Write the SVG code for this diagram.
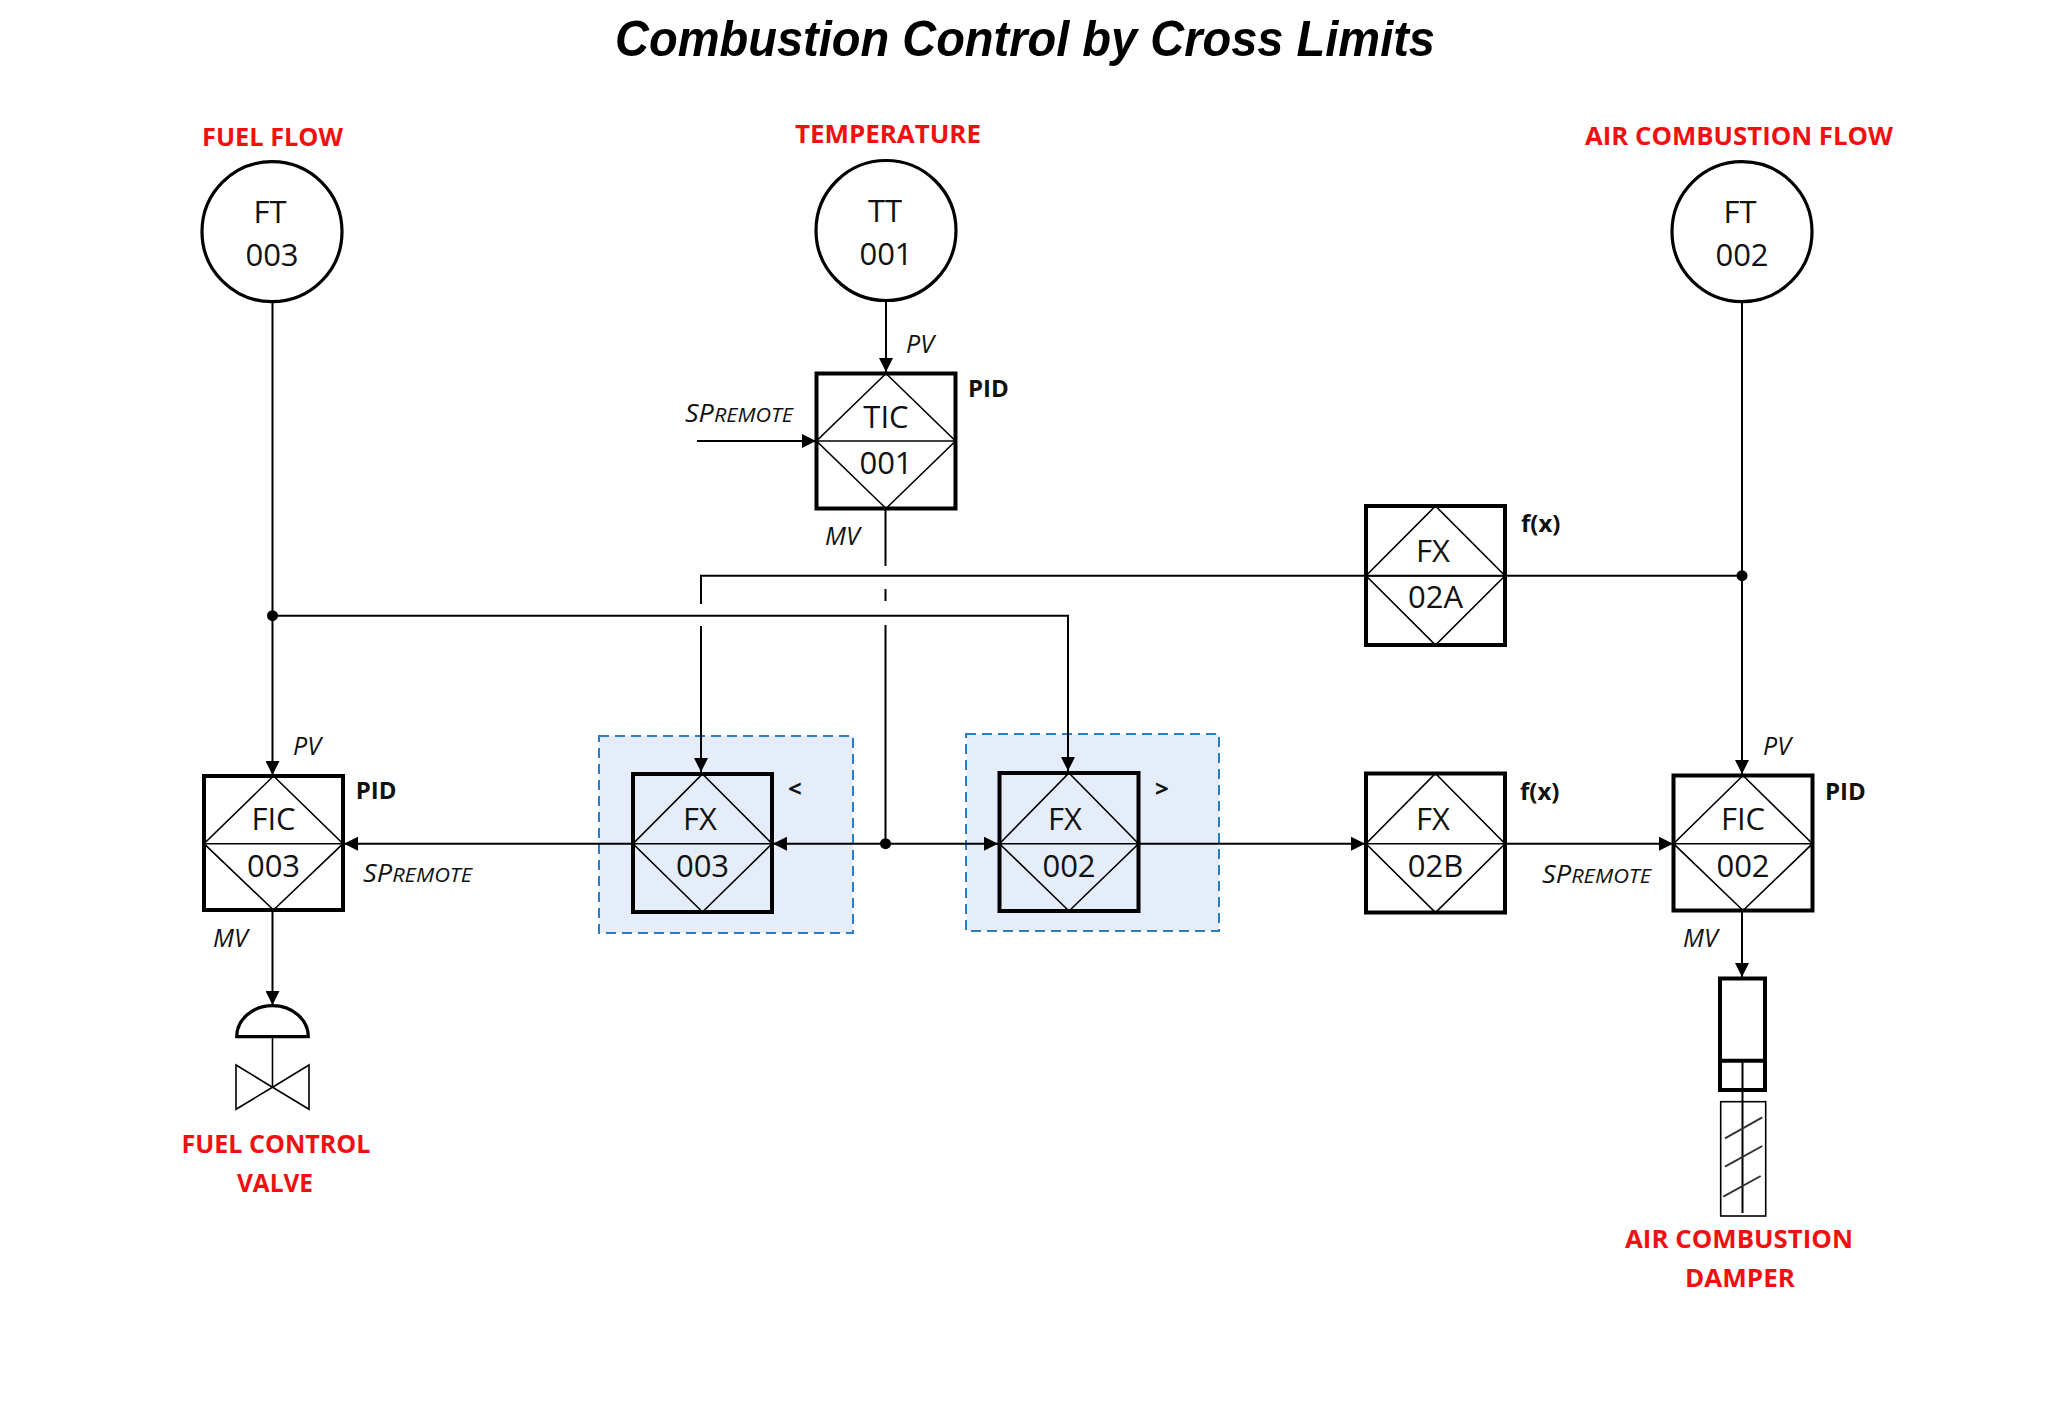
<svg xmlns="http://www.w3.org/2000/svg" width="2048" height="1418" viewBox="0 0 2048 1418">
<defs>
<marker id="arr" markerUnits="userSpaceOnUse" markerWidth="14" markerHeight="14" viewBox="0 0 14 14" refX="14" refY="7" orient="auto">
<path d="M0,0 L14,7 L0,14 Z" fill="#000"/>
</marker>
<style>
.title{font-family:"Liberation Sans",Arial,sans-serif;font-weight:bold;font-style:italic;font-size:50px;fill:#000}
.red{font-family:"Open Sans","Liberation Sans",sans-serif;font-weight:bold;font-size:25px;fill:#f01010}
.tag{font-family:"Open Sans","Liberation Sans",sans-serif;font-size:31px;fill:#111;text-anchor:middle}
.it{font-family:"Open Sans","Liberation Sans",sans-serif;font-style:italic;font-size:25px;fill:#111}
.sm{font-size:20px}
.bd{font-family:"Open Sans","Liberation Sans",sans-serif;font-weight:bold;font-size:24px;fill:#111}
.circ{fill:#fff;stroke:#000;stroke-width:3.2}
.box{fill:none;stroke:#000;stroke-width:4}
.dia{fill:none;stroke:#000;stroke-width:1.6}
.ln{fill:none;stroke:#000;stroke-width:2}
.thin{fill:none;stroke:#000;stroke-width:1.6}
.grp{fill:#e4edf9;stroke:#2a7fc4;stroke-width:2;stroke-dasharray:10 6}
</style>
</defs>
<rect width="2048" height="1418" fill="#fff"/>

<text class="title" x="1025" y="56" text-anchor="middle" textLength="820" lengthAdjust="spacingAndGlyphs">Combustion Control by Cross Limits</text>

<!-- group boxes -->
<rect id="grp-min" class="grp" x="599" y="736" width="254" height="197"/>
<rect id="grp-max" class="grp" x="966" y="734" width="253" height="197"/>

<!-- connectors -->
<g id="connectors">
<line class="ln" x1="272.5" y1="302" x2="272.5" y2="775" marker-end="url(#arr)"/>
<polyline class="ln" points="272.5,615.7 1068,615.7 1068,771" marker-end="url(#arr)"/>
<circle cx="272.5" cy="615.7" r="5.5" fill="#000"/>
<line class="ln" x1="886" y1="301" x2="886" y2="372" marker-end="url(#arr)"/>
<line class="ln" x1="697" y1="441" x2="816" y2="441" marker-end="url(#arr)"/>
<line class="ln" x1="885.5" y1="508" x2="885.5" y2="566"/>
<line class="ln" x1="885.5" y1="589" x2="885.5" y2="601"/>
<line class="ln" x1="885.5" y1="625" x2="885.5" y2="843.7"/>
<line class="ln" x1="1742" y1="302" x2="1742" y2="774" marker-end="url(#arr)"/>
<circle cx="1742" cy="575.7" r="5.5" fill="#000"/>
<polyline class="ln" points="1742,575.7 701,575.7 701,604"/>
<line class="ln" x1="701" y1="626" x2="701" y2="772" marker-end="url(#arr)"/>
<circle cx="885.5" cy="843.7" r="5.5" fill="#000"/>
<line class="ln" x1="885.5" y1="843.7" x2="773" y2="843.7" marker-end="url(#arr)"/>
<line class="ln" x1="885.5" y1="843.7" x2="998" y2="843.7" marker-end="url(#arr)"/>
<line class="ln" x1="633" y1="843.7" x2="344" y2="843.7" marker-end="url(#arr)"/>
<line class="ln" x1="1138.5" y1="843.7" x2="1365" y2="843.7" marker-end="url(#arr)"/>
<line class="ln" x1="1505" y1="843.7" x2="1673" y2="843.7" marker-end="url(#arr)"/>
<line class="ln" x1="272.5" y1="910" x2="272.5" y2="1005" marker-end="url(#arr)"/>
<line class="ln" x1="1742" y1="910" x2="1742" y2="977" marker-end="url(#arr)"/>
</g>

<!-- transmitters -->
<g id="ft003">
<text class="red" x="272.5" y="145.5" text-anchor="middle" textLength="141" lengthAdjust="spacingAndGlyphs">FUEL FLOW</text>
<circle class="circ" cx="272" cy="231.7" r="70"/>
<text class="tag" x="270" y="222.7">FT</text>
<text class="tag" x="272" y="265.7">003</text>
</g>
<g id="tt001">
<text class="red" x="888" y="143.3" text-anchor="middle" textLength="186" lengthAdjust="spacingAndGlyphs">TEMPERATURE</text>
<circle class="circ" cx="886" cy="230.5" r="70"/>
<text class="tag" x="885" y="222">TT</text>
<text class="tag" x="886" y="264.5">001</text>
</g>
<g id="ft002">
<text class="red" x="1739" y="145" text-anchor="middle" textLength="308" lengthAdjust="spacingAndGlyphs">AIR COMBUSTION FLOW</text>
<circle class="circ" cx="1742" cy="231.7" r="70"/>
<text class="tag" x="1740" y="222.7">FT</text>
<text class="tag" x="1742" y="265.7">002</text>
</g>

<!-- controllers / function blocks -->
<g id="tic001">
<rect class="box" x="816.5" y="373.5" width="139" height="135" fill="#fff"/>
<polygon class="dia" points="886,373.5 955.5,441 886,508.5 816.5,441"/>
<line class="dia" x1="816.5" y1="441" x2="955.5" y2="441"/>
<text class="tag" x="886" y="428">TIC</text>
<text class="tag" x="886" y="474">001</text>
<text class="bd" x="968" y="397">PID</text>
<text class="it" x="906" y="353">PV</text>
<text class="it" x="825" y="545">MV</text>
<text class="it" x="685" y="421.7" textLength="108" lengthAdjust="spacingAndGlyphs">SP<tspan class="sm">REMOTE</tspan></text>
</g>

<g id="fx02a">
<rect class="box" x="1366" y="506" width="139" height="139" fill="#fff"/>
<polygon class="dia" points="1435.5,506 1505,575.7 1435.5,645 1366,575.7"/>
<line class="dia" x1="1366" y1="575.7" x2="1505" y2="575.7"/>
<text class="tag" x="1433" y="561.7">FX</text>
<text class="tag" x="1435.5" y="608.3">02A</text>
<text class="bd" x="1521" y="531.7">f(x)</text>
</g>

<g id="fic003">
<rect class="box" x="204" y="776" width="139" height="134" fill="#fff"/>
<polygon class="dia" points="273.5,776 343,843.7 273.5,910 204,843.7"/>
<line class="dia" x1="204" y1="843.7" x2="343" y2="843.7"/>
<text class="tag" x="273.5" y="830">FIC</text>
<text class="tag" x="273.5" y="876.5">003</text>
<text class="bd" x="355.7" y="799">PID</text>
<text class="it" x="293" y="755">PV</text>
<text class="it" x="213" y="946.7">MV</text>
<text class="it" x="363" y="881.7" textLength="109" lengthAdjust="spacingAndGlyphs">SP<tspan class="sm">REMOTE</tspan></text>
</g>

<g id="fx003">
<rect class="box" x="633" y="774" width="139" height="138"/>
<polygon class="dia" points="702.5,774 772,843.7 702.5,912 633,843.7"/>
<line class="dia" x1="633" y1="843.7" x2="772" y2="843.7"/>
<text class="tag" x="700" y="830">FX</text>
<text class="tag" x="702.5" y="876.5">003</text>
<text class="bd" x="788" y="797">&lt;</text>
</g>

<g id="fx002">
<rect class="box" x="999.5" y="773" width="139" height="138"/>
<polygon class="dia" points="1069,773 1138.5,843.7 1069,911 999.5,843.7"/>
<line class="dia" x1="999.5" y1="843.7" x2="1138.5" y2="843.7"/>
<text class="tag" x="1065" y="830">FX</text>
<text class="tag" x="1069" y="876.5">002</text>
<text class="bd" x="1155" y="797">&gt;</text>
</g>

<g id="fx02b">
<rect class="box" x="1366" y="773.5" width="139" height="139" fill="#fff"/>
<polygon class="dia" points="1435.5,773.5 1505,843.7 1435.5,912.5 1366,843.7"/>
<line class="dia" x1="1366" y1="843.7" x2="1505" y2="843.7"/>
<text class="tag" x="1433" y="830">FX</text>
<text class="tag" x="1435.5" y="876.5">02B</text>
<text class="bd" x="1520" y="800">f(x)</text>
</g>

<g id="fic002">
<rect class="box" x="1673.5" y="775.5" width="139" height="135" fill="#fff"/>
<polygon class="dia" points="1743,775.5 1812.5,843.7 1743,910.5 1673.5,843.7"/>
<line class="dia" x1="1673.5" y1="843.7" x2="1812.5" y2="843.7"/>
<text class="tag" x="1743" y="830">FIC</text>
<text class="tag" x="1743" y="876.5">002</text>
<text class="bd" x="1825" y="800">PID</text>
<text class="it" x="1763" y="755">PV</text>
<text class="it" x="1683" y="946.7">MV</text>
<text class="it" x="1542" y="882.7" textLength="109" lengthAdjust="spacingAndGlyphs">SP<tspan class="sm">REMOTE</tspan></text>
</g>

<!-- fuel control valve -->
<g id="fuel-valve">
<path d="M236.7,1036.7 A35.8,31 0 0 1 308.3,1036.7 Z" fill="#fff" stroke="#000" stroke-width="3.2"/>
<line class="thin" x1="272.5" y1="1036.7" x2="272.5" y2="1087.5"/>
<polygon class="thin" points="236,1065 236,1109.3 272.5,1087.2"/>
<polygon class="thin" points="309,1065 309,1109.3 272.5,1087.2"/>
<text class="red" x="276" y="1153" text-anchor="middle" textLength="189" lengthAdjust="spacingAndGlyphs">FUEL CONTROL</text>
<text class="red" x="275" y="1191.7" text-anchor="middle" textLength="76" lengthAdjust="spacingAndGlyphs">VALVE</text>
</g>

<!-- air damper -->
<g id="air-damper">
<rect x="1720" y="978.5" width="45" height="111.5" fill="#fff" stroke="#000" stroke-width="4"/>
<line x1="1720" y1="1060.7" x2="1765" y2="1060.7" stroke="#000" stroke-width="4"/>
<rect x="1720.7" y="1101.7" width="45" height="114.3" fill="#fff" stroke="#000" stroke-width="1.6"/>
<line class="ln" x1="1742.5" y1="1060.7" x2="1742.5" y2="1213"/>
<line x1="1725" y1="1138.3" x2="1762.3" y2="1117.3" stroke="#333" stroke-width="2"/>
<line x1="1725" y1="1166.7" x2="1762.3" y2="1146" stroke="#333" stroke-width="2"/>
<line x1="1723.3" y1="1196.7" x2="1760.7" y2="1176" stroke="#333" stroke-width="2"/>
<text class="red" x="1739" y="1248.3" text-anchor="middle" textLength="228" lengthAdjust="spacingAndGlyphs">AIR COMBUSTION</text>
<text class="red" x="1740" y="1286.7" text-anchor="middle" textLength="110" lengthAdjust="spacingAndGlyphs">DAMPER</text>
</g>
</svg>
